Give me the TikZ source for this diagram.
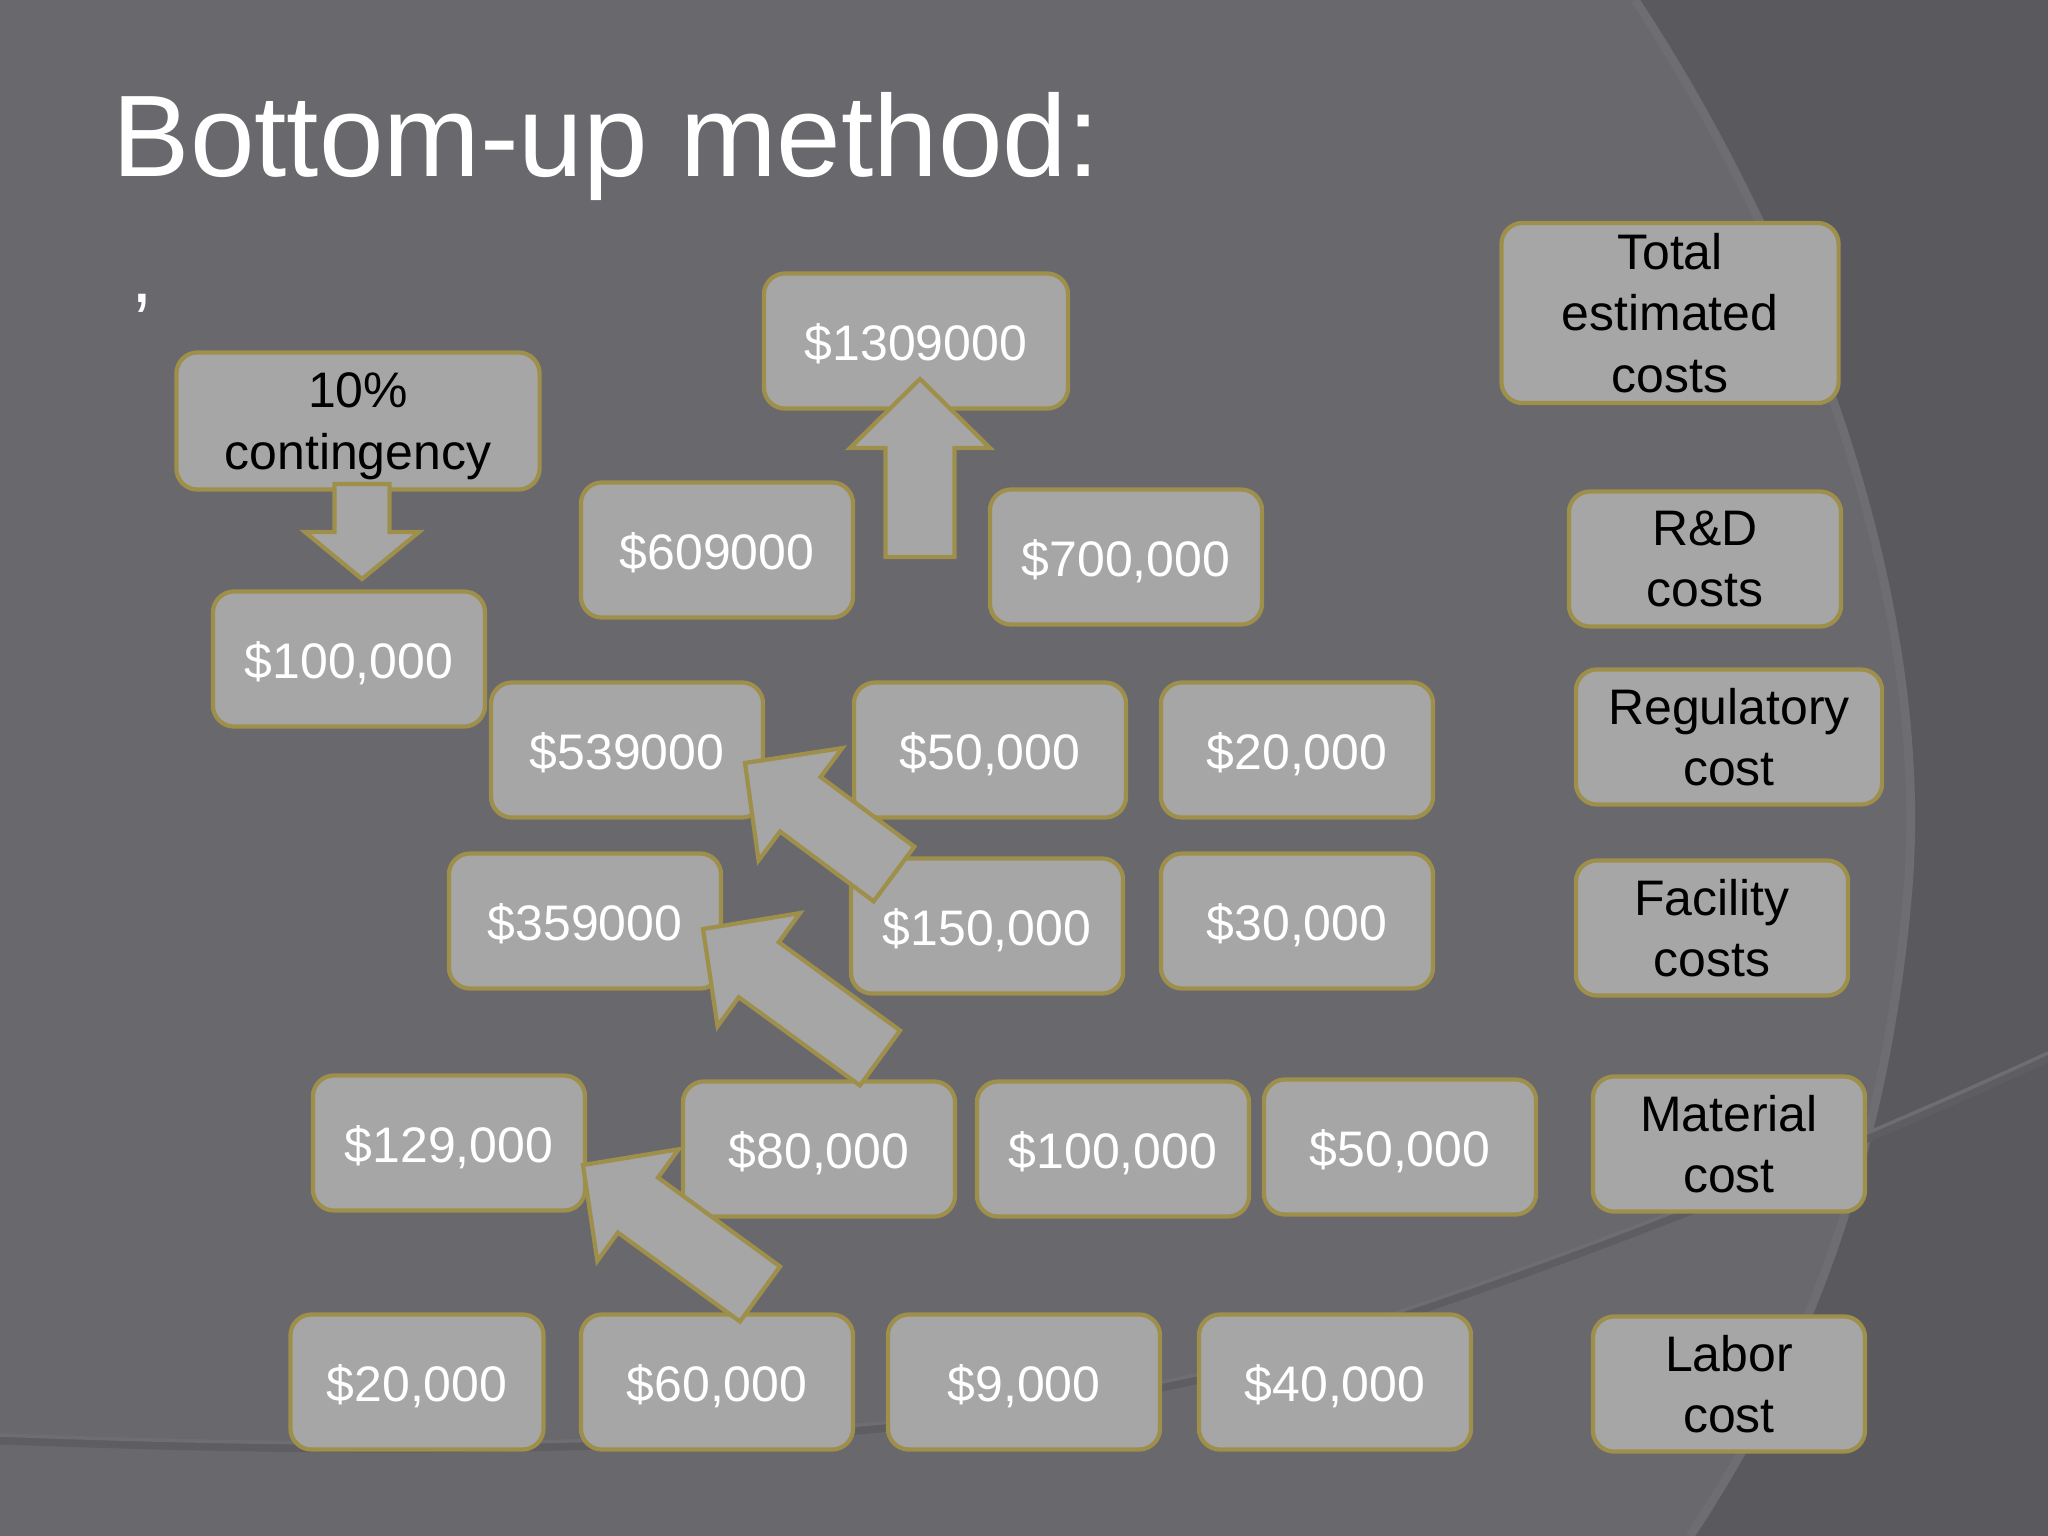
\documentclass[tikz,border=0pt]{standalone}
\usepackage{fontspec}
\setmainfont{Liberation Sans}
\usetikzlibrary{calc,positioning}

\definecolor{slidebg}{HTML}{69686D}
\definecolor{slidedark}{HTML}{5A595E}
\definecolor{slideedge}{HTML}{6E6D72}
\definecolor{slideshade}{HTML}{5E5D62}
\definecolor{boxfill}{HTML}{A6A6A6}
\definecolor{boxline}{HTML}{9E8F4A}

% block arrow: tail, tip, shaft half width, head half width, head length
\newcommand\blockarrow[5]{%
  \coordinate (arrbase) at ($(#2)!#5!(#1)$);
  \draw[blockarr] ($(#1)!#3!90:(#2)$) -- ($(arrbase)!#3!90:(#2)$)
    -- ($(arrbase)!#4!90:(#2)$) -- (#2) -- ($(arrbase)!#4!-90:(#2)$)
    -- ($(arrbase)!#3!-90:(#2)$) -- ($(#1)!#3!-90:(#2)$) -- cycle;}

\begin{document}
\begin{tikzpicture}[x=0.01cm, y=-0.01cm,
    every node/.style={font=\fontsize{14.2}{17.4}\selectfont},
    costbox/.style={draw=boxline, fill=boxfill, line width=1.2pt,
      rounded corners=6pt, minimum width=2.72cm, minimum height=1.35cm,
      align=center, inner sep=0pt},
    valbox/.style={costbox, text=white, text height=0.45cm, text depth=0.06cm},
    labbox/.style={costbox, text=black},
    blockarr/.style={draw=boxline, fill=boxfill, line width=1.2pt, line join=miter}]
  \useasboundingbox (0,0) rectangle (2048,1536);

  % background
  \fill[slidebg] (0,0) rectangle (2048,1536);
  \fill[slidedark] (1635,0) .. controls (1800,250) and (1935,600) .. (1907,900)
    .. controls (1880,1200) and (1780,1400) .. (1690,1536) -- (2048,1536) -- (2048,0) -- cycle;
  \draw[slideedge, line width=2.5pt] (1635,0) .. controls (1800,250) and (1935,600) .. (1907,900)
    .. controls (1880,1200) and (1780,1400) .. (1690,1536);
  \draw[slideshade, line width=2.5pt] (0,1440) .. controls (700,1467) and (1000,1422) .. (1200,1379)
    .. controls (1500,1292) and (1800,1172) .. (2048,1058);
  \draw[slideedge, line width=1pt] (0,1435) .. controls (700,1462) and (1000,1417) .. (1200,1374)
    .. controls (1500,1287) and (1800,1167) .. (2048,1053);

  \node[anchor=base west, font=\fontsize{33}{40}\selectfont, text=white, inner sep=0pt]
    (title) at (112,176) {Bottom-up method:};
  \node[anchor=base, font=\fontsize{22}{26}\selectfont, text=white, inner sep=0pt]
    (comma) at (142,302) {,};

  % labels on the right
  \node[labbox, minimum width=3.37cm, minimum height=1.8cm] (total) at (1670,313) {Total\\estimated\\costs};
  \node[labbox] (rd) at (1705,559) {R\&D\\costs};
  \node[labbox, minimum width=3.06cm] (reg) at (1729,737) {Regulatory\\cost};
  \node[labbox] (fac) at (1712,928) {Facility\\costs};
  \node[labbox] (mat) at (1729,1144) {Material\\cost};
  \node[labbox] (lab) at (1729,1384) {Labor\\cost};

  % values
  \node[valbox, minimum width=3.04cm] (tot1309) at (916,341) {\$1309000};
  \node[labbox, minimum width=3.63cm, minimum height=1.37cm, text depth=0cm]
    (cont) at (358,421) {10\%\\contingency};
  \node[valbox] (rd609) at (717,550) {\$609000};
  \node[valbox] (rd700) at (1126,557) {\$700,000};
  \node[valbox] (cont100) at (349,659) {\$100,000};
  \node[valbox] (reg539) at (627,750) {\$539000};
  \node[valbox] (reg50) at (990,750) {\$50,000};
  \node[valbox] (reg20) at (1297,750) {\$20,000};
  \node[valbox] (fac359) at (585,921) {\$359000};
  \node[valbox] (fac150) at (987,926) {\$150,000};
  \node[valbox] (fac30) at (1297,921) {\$30,000};
  \node[valbox] (mat129) at (449,1143) {\$129,000};
  \node[valbox] (mat80) at (819,1149) {\$80,000};
  \node[valbox] (mat100) at (1113,1149) {\$100,000};
  \node[valbox] (mat50) at (1400,1147) {\$50,000};
  \node[valbox, minimum width=2.53cm] (lab20) at (417,1382) {\$20,000};
  \node[valbox] (lab60) at (717,1382) {\$60,000};
  \node[valbox] (lab9) at (1024,1382) {\$9,000};
  \node[valbox] (lab40) at (1335,1382) {\$40,000};

  % arrows
  \coordinate (upTail) at (920,557);  \coordinate (upTip) at (920,379);
  \coordinate (dnTail) at (362,484);  \coordinate (dnTip) at (362,579);
  \coordinate (aTail) at (894,874);   \coordinate (aTip) at (745,763);
  \coordinate (bTail) at (880,1058);  \coordinate (bTip) at (703,929);
  \coordinate (cTail) at (760,1294);  \coordinate (cTip) at (583,1165);
  \blockarrow{upTail}{upTip}{0.345cm}{0.70cm}{0.69cm}
  \blockarrow{dnTail}{dnTip}{0.275cm}{0.57cm}{0.47cm}
  \blockarrow{aTail}{aTip}{0.34cm}{0.70cm}{0.69cm}
  \blockarrow{bTail}{bTip}{0.34cm}{0.70cm}{0.69cm}
  \blockarrow{cTail}{cTip}{0.34cm}{0.69cm}{0.68cm}
\end{tikzpicture}
\end{document}
